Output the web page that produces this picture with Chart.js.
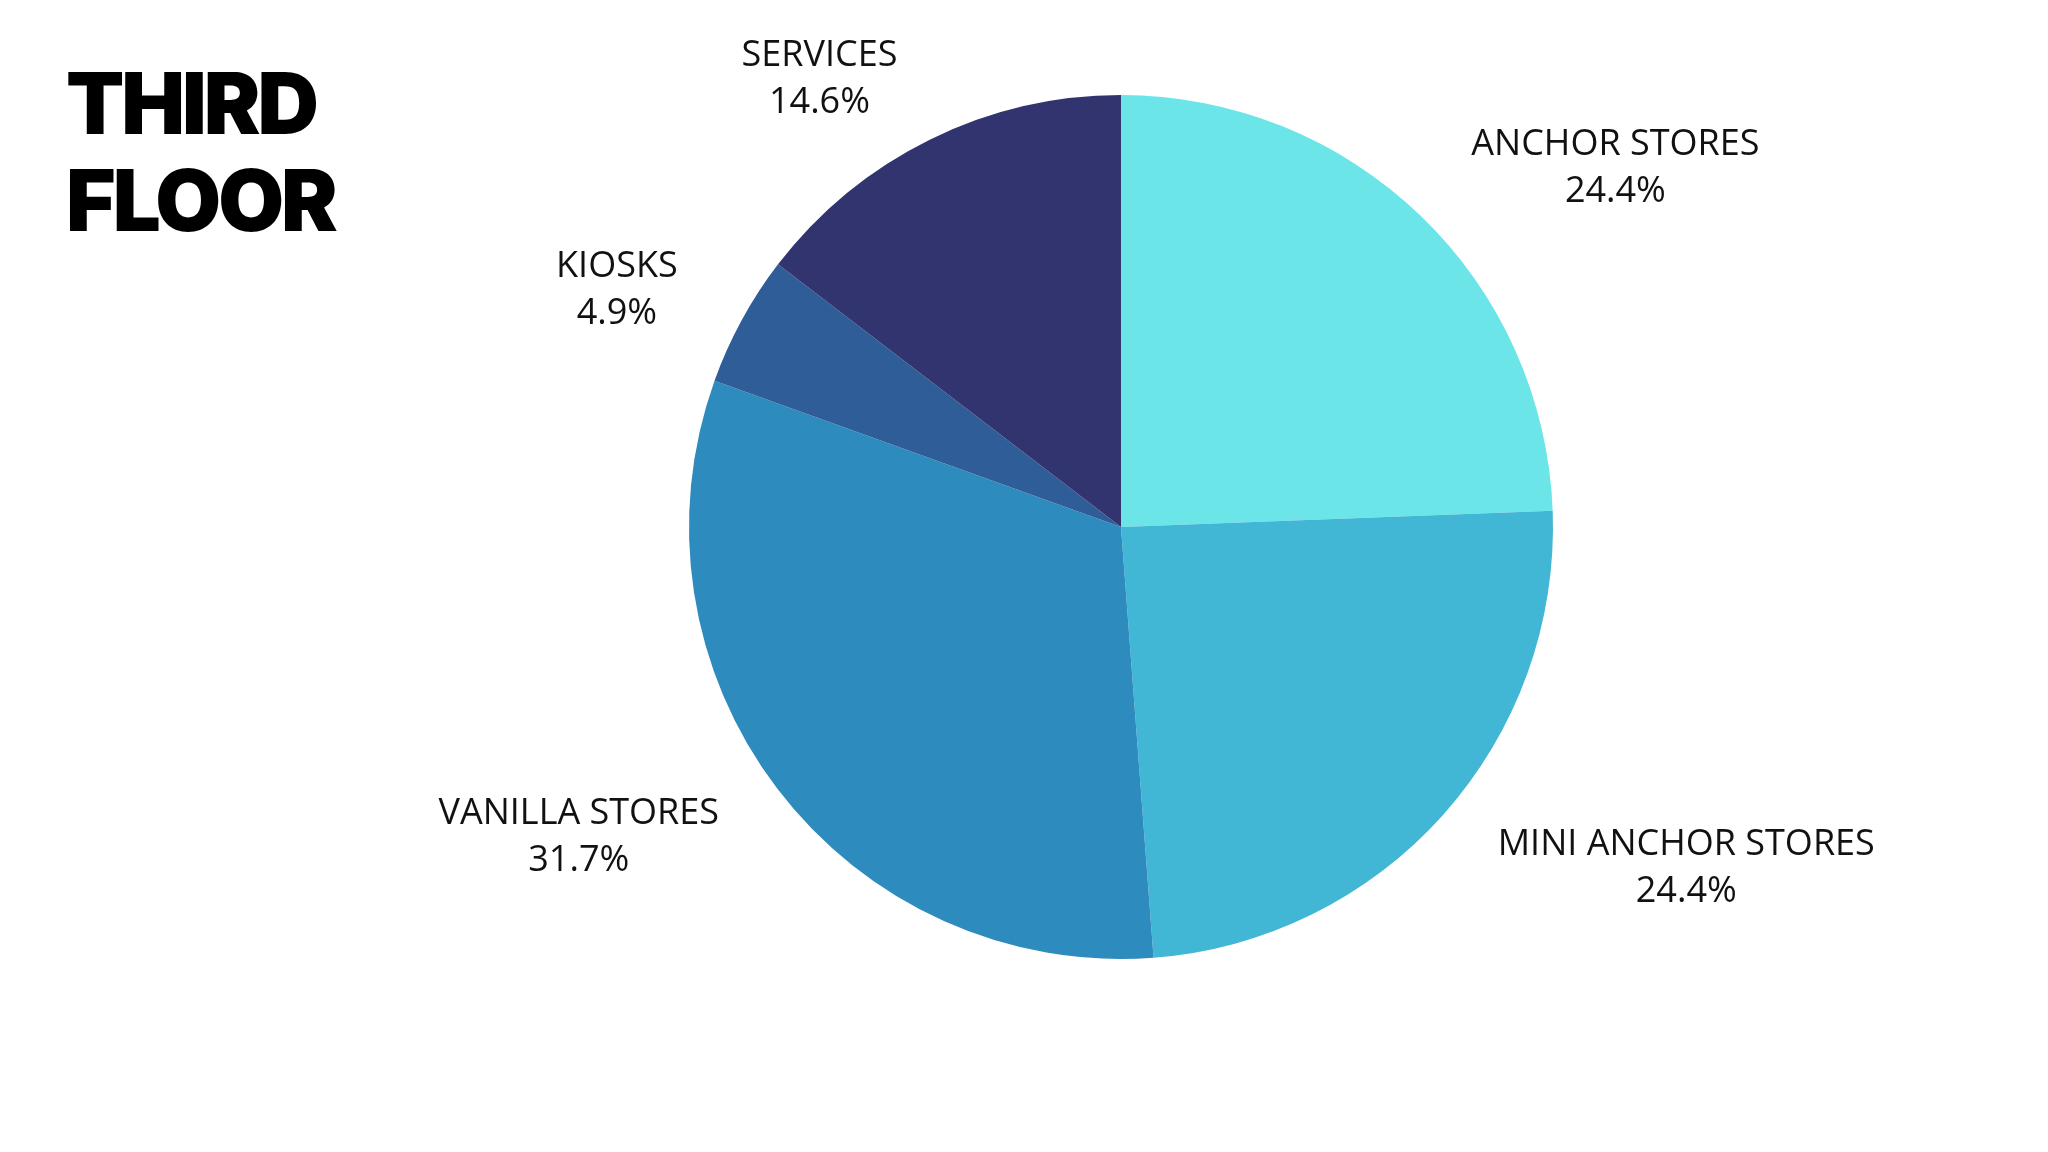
<!DOCTYPE html>
<html>
<head>
<meta charset="utf-8">
<script src="https://cdn.jsdelivr.net/npm/chart.js@4/dist/chart.umd.min.js"></script>
<style>
  html, body { margin: 0; padding: 0; background: #fff; }
  #wrap { position: relative; width: 2048px; height: 1152px; }
  #title {
    position: absolute; left: 66px; top: 55px;
    font-family: Inter, "Noto Sans", sans-serif; font-weight: 900;
    font-size: 85px; line-height: 97px; letter-spacing: -3px; color: #000;
  }
</style>
</head>
<body>
<div id="wrap">
  <canvas id="floorChart" width="2048" height="1152"></canvas>
  <div id="title">THIRD<br>FLOOR</div>
</div>
<script>
const categories = ['ANCHOR STORES', 'MINI ANCHOR STORES', 'VANILLA STORES', 'KIOSKS', 'SERVICES'];
const shares = [24.4, 24.4, 31.7, 4.9, 14.6];
const sliceColors = ['#6ce5e8', '#42b7d5', '#2e8bbe', '#2e5d97', '#31346f'];

// label block sits beside a point just outside the slice's mid-angle
const outerLabels = {
    id: 'outerLabels',
    afterDraw(chart) {
        const ctx = chart.ctx;
        const meta = chart.getDatasetMeta(0);
        const gap = 73;
        const lineH = 47;
        ctx.save();
        ctx.font = '36px "Open Sans", sans-serif';
        ctx.fillStyle = '#111';
        ctx.textAlign = 'center';
        ctx.textBaseline = 'middle';
        meta.data.forEach((arc, i) => {
            const p = arc.getProps(['x', 'y', 'startAngle', 'endAngle', 'outerRadius'], true);
            const mid = (p.startAngle + p.endAngle) / 2;
            const lines = [categories[i], shares[i].toFixed(1) + '%'];
            const w = Math.max(...lines.map(t => ctx.measureText(t).width));
            const ax = p.x + Math.cos(mid) * (p.outerRadius + gap);
            const ay = p.y + Math.sin(mid) * (p.outerRadius + gap) + 5;
            const cx = ax + Math.sign(Math.cos(mid)) * w / 2;
            ctx.fillText(lines[0], cx, ay - lineH / 2);
            ctx.fillText(lines[1], cx, ay + lineH / 2);
        });
        ctx.restore();
    }
};

new Chart(document.getElementById('floorChart'), {
    type: 'pie',
    data: {
        labels: categories,
        datasets: [{
            data: shares,
            backgroundColor: sliceColors,
            borderWidth: 0
        }]
    },
    options: {
        responsive: false,
        animation: false,
        layout: { padding: { left: 689, right: 495, top: 95, bottom: 193 } },
        plugins: {
            legend: { display: false },
            tooltip: { enabled: false }
        }
    },
    plugins: [outerLabels]
});
</script>
</body>
</html>
